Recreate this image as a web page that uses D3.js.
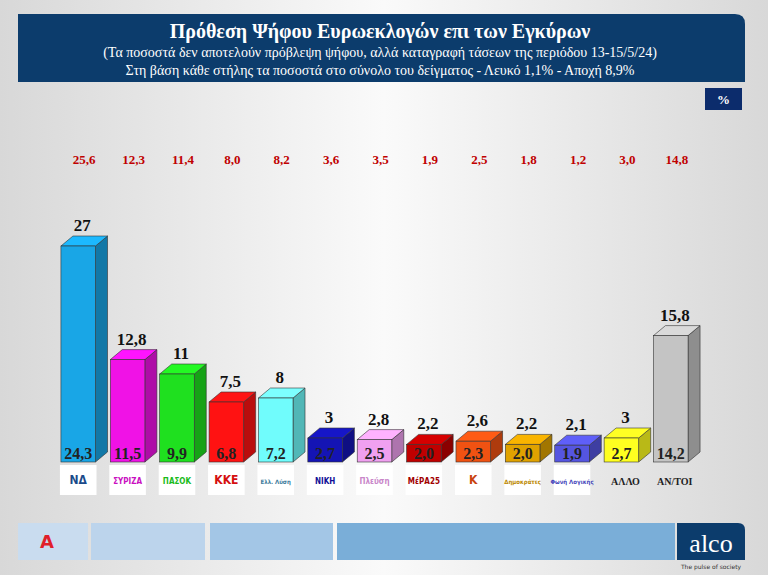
<!DOCTYPE html>
<html><head><meta charset="utf-8">
<script src="https://cdn.jsdelivr.net/npm/d3@7"></script>
<style>body{margin:0}svg{display:block}</style>
</head><body>
<svg id="main" width="768" height="575"></svg>
<script>
const parties = ["ΝΔ","ΣΥΡΙΖΑ","ΠΑΣΟΚ","ΚΚΕ","Ελλ. Λύση","ΝΙΚΗ","Πλεύση","ΜέΡΑ25","Κ","Δημοκράτες","Φωνή Λογικής","ΑΛΛΟ","ΑΝ/ΤΟΙ"];
const onValid = [27,12.8,11,7.5,8,3,2.8,2.2,2.6,2.2,2.1,3,15.8];
const onSample = [24.3,11.5,9.9,6.8,7.2,2.7,2.5,2.0,2.3,2.0,1.9,2.7,14.2];
const previous = [25.6,12.3,11.4,8.0,8.2,3.6,3.5,1.9,2.5,1.8,1.2,3.0,14.8];
const colors = ["#19a6e6","#f012e6","#1fe01f","#ff1212","#70fcfc","#1414b4","#f0a0f0","#c00000","#f05212","#e0a200","#5555e0","#ffff20","#c4c4c4"];

const svg = d3.select("#main");
const defs = svg.append("defs");
const bg = defs.append("linearGradient").attr("id","bg").attr("x1",0).attr("x2",1);
bg.append("stop").attr("offset","0%").attr("stop-color","#d8d8d8");
bg.append("stop").attr("offset","50%").attr("stop-color","#fafafa");
bg.append("stop").attr("offset","100%").attr("stop-color","#d8d8d8");
svg.append("rect").attr("width",768).attr("height",575).attr("fill","url(#bg)");

// header
svg.append("path").attr("d","M18,14 H735 Q745,14 745,24 V82 H18 Z").attr("fill","#0c3c6c");
const ser = "Liberation Serif";
svg.append("text").attr("x",380).attr("y",38).attr("text-anchor","middle").attr("font-family",ser)
  .attr("font-size",20).attr("font-weight","bold").attr("fill","#fff").text("Πρόθεση Ψήφου Ευρωεκλογών επι των Εγκύρων");
svg.append("text").attr("x",380).attr("y",57).attr("text-anchor","middle").attr("font-family",ser)
  .attr("font-size",14).attr("fill","#fff").text("(Τα ποσοστά δεν αποτελούν πρόβλεψη ψήφου, αλλά καταγραφή τάσεων της περιόδου  13-15/5/24)");
svg.append("text").attr("x",380).attr("y",75).attr("text-anchor","middle").attr("font-family",ser)
  .attr("font-size",14).attr("fill","#fff").text("Στη βάση κάθε στήλης τα ποσοστά στο σύνολο του δείγματος - Λευκό 1,1% - Αποχή 8,9%");
svg.append("rect").attr("x",705).attr("y",88).attr("width",37).attr("height",22).attr("fill","#0c2c6c");
svg.append("text").attr("x",723.5).attr("y",104).attr("text-anchor","middle").attr("font-family",ser)
  .attr("font-size",13).attr("font-weight","bold").attr("fill","#fff").text("%");

const x = d3.scaleBand().domain(parties).range([56,693]).paddingInner(0.3).paddingOuter(0.1);
const y = d3.scaleLinear().domain([0,27]).range([462,246]);
const dx = 12, dy = 10;
const fmt = v => d3.format(".1f")(v).replace(".",",");
const fmtTop = v => (Number.isInteger(v) ? String(v) : String(v).replace(".",","));

const g = svg.append("g").selectAll("g").data(parties).join("g");
g.each(function(p,i){
  const s = d3.select(this), c = d3.color(colors[i]);
  const x0 = x(p), w = x.bandwidth(), yt = y(onValid[i]), yb = y(0);
  s.append("path").attr("d",`M${x0+w},${yt} l${dx},${-dy} V${yb-dy} l${-dx},${dy} Z`)
    .attr("fill",c.darker(0.9)).attr("stroke","#333").attr("stroke-width",0.6);
  s.append("path").attr("d",`M${x0},${yt} l${dx},${-dy} h${w} l${-dx},${dy} Z`)
    .attr("fill",c.brighter(0.3)).attr("stroke","#333").attr("stroke-width",0.6);
  s.append("rect").attr("x",x0).attr("y",yt).attr("width",w).attr("height",yb-yt)
    .attr("fill",c).attr("stroke","#333").attr("stroke-width",0.6);
  s.append("text").attr("x",x0+w/2+4).attr("y",yt-dy-5).attr("text-anchor","middle").attr("font-family",ser)
    .attr("font-size",17).attr("font-weight","bold").attr("fill","#111").text(fmtTop(onValid[i]));
  s.append("text").attr("x",x0+w/2).attr("y",yb-3).attr("text-anchor","middle").attr("font-family",ser)
    .attr("font-size",16).attr("font-weight","bold").attr("fill",i===5?"#222":"#222").text(fmt(onSample[i]));
  s.append("text").attr("x",x0+w/2+6).attr("y",164).attr("text-anchor","middle").attr("font-family",ser)
    .attr("font-size",13).attr("font-weight","bold").attr("fill","#c00000").text(fmt(previous[i]));
  // logo area
  if (i < 11) {
    s.append("rect").attr("x",x0-1).attr("y",465).attr("width",w+2).attr("height",30).attr("fill","#fff");
    s.append("text").attr("x",x0+w/2).attr("y",484).attr("text-anchor","middle").attr("font-family","DejaVu Sans Condensed, sans-serif")
      .attr("font-size",p.length>6?6:(p.length>3?8:12)).attr("font-weight","bold").attr("fill",i===0?"#1a4a8a":colors[i]==="#70fcfc"?"#3a7a9a":d3.color(colors[i]).darker(0.5)).text(p);
  } else {
    s.append("text").attr("x",x0+w/2+4).attr("y",485).attr("text-anchor","middle").attr("font-family",ser)
      .attr("font-size",10).attr("font-weight","bold").attr("fill","#222").text(p);
  }
});

// footer
const foot = [[18,88,"#c9dcef"],[91,205,"#bcd4ec"],[210,333,"#a3c6e6"],[337,675,"#7aaed8"]];
svg.append("g").selectAll("rect").data(foot).join("rect")
  .attr("x",d=>d[0]).attr("y",523).attr("width",d=>d[1]-d[0]).attr("height",37).attr("fill",d=>d[2]);
svg.append("text").attr("x",40).attr("y",548).attr("font-family","DejaVu Sans").attr("font-weight","bold")
  .attr("font-size",18).attr("fill","#e0202a").text("A");
svg.append("path").attr("d","M677,523 H738 Q745,523 745,530 V560 H677 Z").attr("fill","#0c3c6c");
svg.append("text").attr("x",711).attr("y",552).attr("text-anchor","middle").attr("font-family",ser)
  .attr("font-size",26).attr("fill","#fff").text("alco");
svg.append("text").attr("x",711).attr("y",569).attr("text-anchor","middle").attr("font-family","DejaVu Sans")
  .attr("font-size",6).attr("fill","#333").text("The pulse of society");
</script>
</body></html>
